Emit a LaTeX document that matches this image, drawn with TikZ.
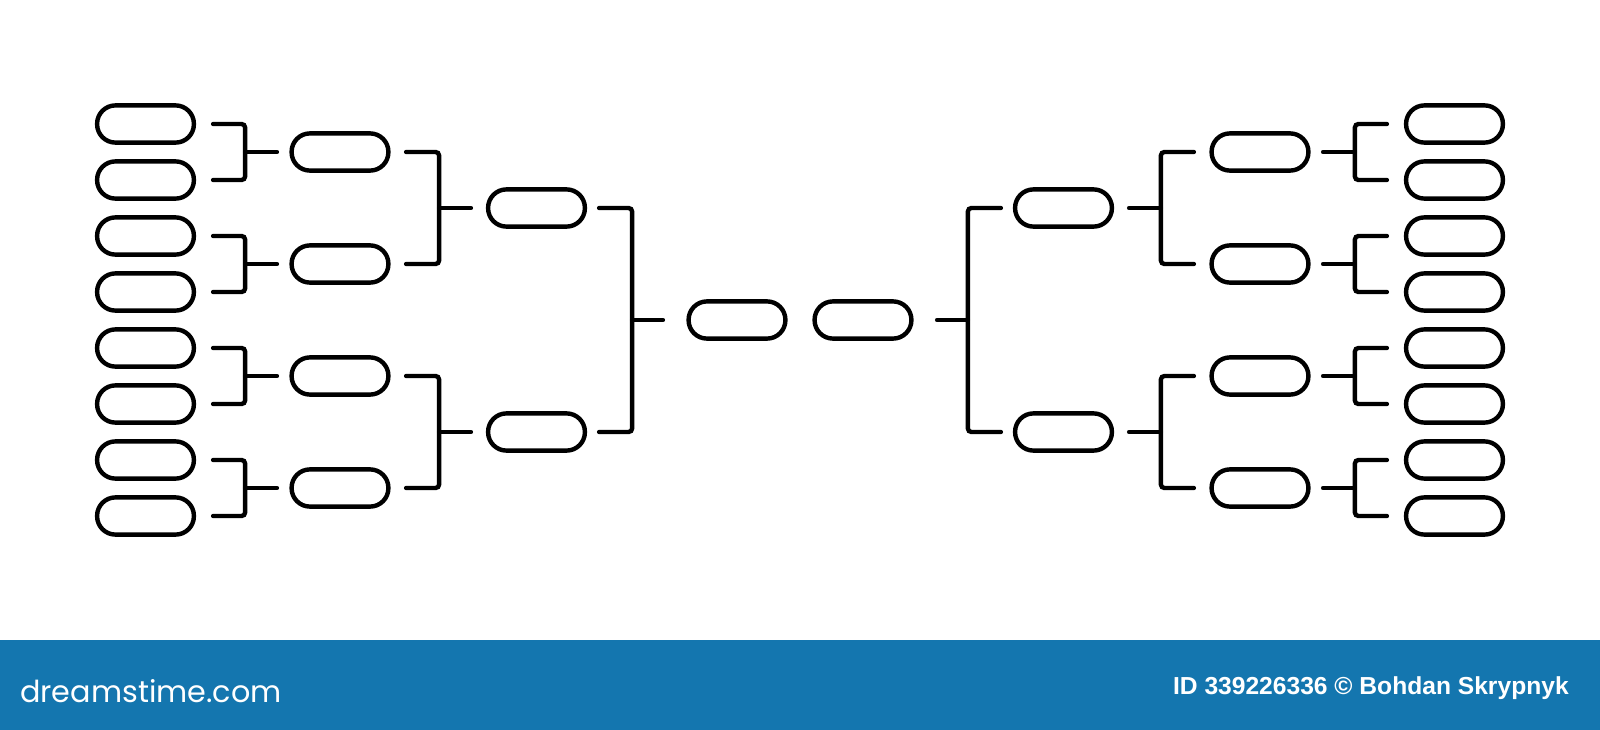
\documentclass[tikz,border=0pt]{standalone}
\usepackage{fontspec}
\newfontfamily\logofont{Poppins}
\newfontfamily\creditfont{Liberation Sans}
\definecolor{bannerblue}{RGB}{20,118,175}

\begin{document}
\begin{tikzpicture}
	[
		x=0.025cm, y=-0.025cm,
		slot/.style = {shape=rectangle, draw, line width=0.11cm, rounded corners=0.46cm,
			minimum width=2.42cm, minimum height=0.93cm, inner sep=0pt, anchor=center},
		link/.style = {line width=0.11cm, line cap=round, rounded corners=2.5pt}
	]
	
	\useasboundingbox (0,0) rectangle (1600,730);
	
	% left half
	\foreach \i in {1,...,8}
		\node [slot] (L1-\i) at (145.5, {124 + 56*(\i - 1)}) {};
	\foreach \i in {1,...,4}
		\node [slot] (L2-\i) at (340, {152 + 112*(\i - 1)}) {};
	\foreach \i in {1,2}
		\node [slot] (L3-\i) at (536.5, {208 + 224*(\i - 1)}) {};
	\node [slot] (L4) at (737, 320) {};
	
	% right half
	\foreach \i in {1,...,8}
		\node [slot] (R1-\i) at (1454.5, {124 + 56*(\i - 1)}) {};
	\foreach \i in {1,...,4}
		\node [slot] (R2-\i) at (1260, {152 + 112*(\i - 1)}) {};
	\foreach \i in {1,2}
		\node [slot] (R3-\i) at (1063.5, {208 + 224*(\i - 1)}) {};
	\node [slot] (R4) at (863, 320) {};
	
	% brackets, first round
	\foreach \i [evaluate=\i as \a using int(2*\i - 1), evaluate=\i as \b using int(2*\i)] in {1,...,4} {
		\draw [link] ([xshift=17*0.025cm]L1-\a.east) -- ++(32,0) coordinate (lv) |- ([xshift=17*0.025cm]L1-\b.east);
		\draw [link] ([xshift=-12.5*0.025cm]L2-\i.west) -- (lv |- L2-\i.west);
		\draw [link] ([xshift=-17*0.025cm]R1-\a.west) -- ++(-32,0) coordinate (rv) |- ([xshift=-17*0.025cm]R1-\b.west);
		\draw [link] ([xshift=12.5*0.025cm]R2-\i.east) -- (rv |- R2-\i.east);
	}
	
	% brackets, second round
	\foreach \i [evaluate=\i as \a using int(2*\i - 1), evaluate=\i as \b using int(2*\i)] in {1,2} {
		\draw [link] ([xshift=15.5*0.025cm]L2-\a.east) -- ++(33,0) coordinate (lv) |- ([xshift=15.5*0.025cm]L2-\b.east);
		\draw [link] ([xshift=-15*0.025cm]L3-\i.west) -- (lv |- L3-\i.west);
		\draw [link] ([xshift=-15.5*0.025cm]R2-\a.west) -- ++(-33,0) coordinate (rv) |- ([xshift=-15.5*0.025cm]R2-\b.west);
		\draw [link] ([xshift=15*0.025cm]R3-\i.east) -- (rv |- R3-\i.east);
	}
	
	% brackets, semi-finals
	\draw [link] ([xshift=12*0.025cm]L3-1.east) -- ++(33,0) coordinate (lv) |- ([xshift=12*0.025cm]L3-2.east);
	\draw [link] ([xshift=-23.5*0.025cm]L4.west) -- (lv |- L4.west);
	\draw [link] ([xshift=-12*0.025cm]R3-1.west) -- ++(-33,0) coordinate (rv) |- ([xshift=-12*0.025cm]R3-2.west);
	\draw [link] ([xshift=23.5*0.025cm]R4.east) -- (rv |- R4.east);
	
	% banner
	\fill [bannerblue] (0,640) rectangle (1600,730);
	\node [anchor=base west, inner sep=0pt, text=white, font=\logofont\fontsize{21.5}{21.5}\selectfont] (logo) at (20,702) {dreamstime.com};
	\node [anchor=base east, inner sep=0pt, text=white, font=\creditfont\bfseries\fontsize{17.5}{17.5}\selectfont] (credit) at (1569,694) {ID 339226336 © Bohdan Skrypnyk};
	
\end{tikzpicture}
\end{document}
